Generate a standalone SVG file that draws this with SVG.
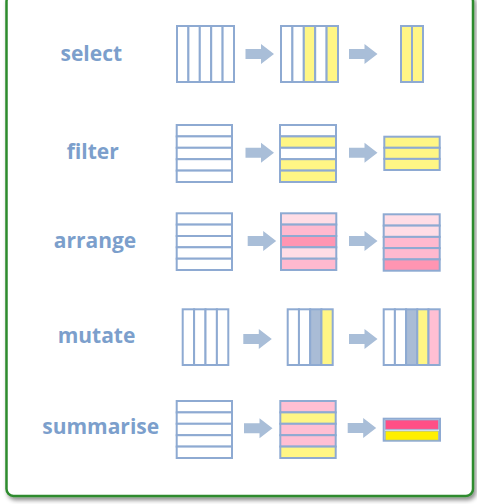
<svg xmlns="http://www.w3.org/2000/svg" width="477" height="504" viewBox="0 0 477 504">
<defs>
<style>
.lbl{font-family:"Open Sans","Liberation Sans",sans-serif;font-weight:bold;font-size:21px;fill:#7c9fcc;text-anchor:middle}
.c{stroke:#8eaad2;stroke-width:2;fill:#ffffff}
.y{fill:#fff685}
.pl{fill:#ffdde6}
.pm{fill:#ffb9cf}
.pd{fill:#ff95b2}
.pk{fill:#ffbfd3}
.b{fill:#a9bcd6}
.hp{fill:#ff4f86}
.by{fill:#ffef00}
.arr{fill:#a9bed8}
</style>
<filter id="sh" x="-5%" y="-5%" width="115%" height="115%">
<feDropShadow dx="2" dy="3" stdDeviation="2" flood-color="#000" flood-opacity="0.45"/>
</filter>
<path id="ar" d="M0,-5 H15.5 V-10 L28.5,0 L15.5,10 V5 H0 Z"/>
</defs>
<rect id="frame" x="6.5" y="-6" width="466.5" height="502" rx="7" fill="#ffffff" stroke="#2e8b2e" stroke-width="2.5" filter="url(#sh)"/>

<g id="row-select">
<text class="lbl" x="91.3" y="60.5">select</text>
</g>
<g id="select-in">
<rect class="c" x="177" y="26" width="11.4" height="56"/><rect class="c" x="188.4" y="26" width="11.4" height="56"/><rect class="c" x="199.8" y="26" width="11.4" height="56"/><rect class="c" x="211.2" y="26" width="11.4" height="56"/><rect class="c" x="222.6" y="26" width="11.4" height="56"/>
</g>
<g id="select-mid">
<rect class="c" x="281" y="26" width="11.4" height="56"/><rect class="c" x="292.4" y="26" width="11.4" height="56"/><rect class="c y" x="303.8" y="26" width="11.4" height="56"/><rect class="c" x="315.2" y="26" width="11.4" height="56"/><rect class="c y" x="326.6" y="26" width="11.4" height="56"/>
</g>
<g id="select-out">
<rect class="c y" x="401" y="26" width="11" height="56"/><rect class="c y" x="412" y="26" width="11" height="56"/>
</g>

<g id="row-filter">
<text class="lbl" x="92.7" y="159.3">filter</text>
</g>
<g id="filter-in">
<rect class="c" x="176.7" y="125" width="55.3" height="11.4"/><rect class="c" x="176.7" y="136.4" width="55.3" height="11.4"/><rect class="c" x="176.7" y="147.8" width="55.3" height="11.4"/><rect class="c" x="176.7" y="159.2" width="55.3" height="11.4"/><rect class="c" x="176.7" y="170.6" width="55.3" height="11.4"/>
</g>
<g id="filter-mid">
<rect class="c" x="280" y="125" width="56" height="11.4"/><rect class="c y" x="280" y="136.4" width="56" height="11.4"/><rect class="c" x="280" y="147.8" width="56" height="11.4"/><rect class="c y" x="280" y="159.2" width="56" height="11.4"/><rect class="c y" x="280" y="170.6" width="56" height="11.4"/>
</g>
<g id="filter-out">
<rect class="c y" x="384.3" y="136.7" width="55.4" height="11.1"/><rect class="c y" x="384.3" y="147.8" width="55.4" height="11.1"/><rect class="c y" x="384.3" y="158.9" width="55.4" height="11.1"/>
</g>

<g id="row-arrange">
<text class="lbl" x="95" y="247.7">arrange</text>
</g>
<g id="arrange-in">
<rect class="c" x="176.7" y="213.3" width="55.3" height="11.3"/><rect class="c" x="176.7" y="224.6" width="55.3" height="11.4"/><rect class="c" x="176.7" y="236" width="55.3" height="11.3"/><rect class="c" x="176.7" y="247.3" width="55.3" height="11.4"/><rect class="c" x="176.7" y="258.7" width="55.3" height="11.3"/>
</g>
<g id="arrange-mid">
<rect class="c pl" x="281" y="213.3" width="55.3" height="11.3"/><rect class="c pm" x="281" y="224.6" width="55.3" height="11.4"/><rect class="c pd" x="281" y="236" width="55.3" height="11.3"/><rect class="c pl" x="281" y="247.3" width="55.3" height="11.4"/><rect class="c pm" x="281" y="258.7" width="55.3" height="11.3"/>
</g>
<g id="arrange-out">
<rect class="c pl" x="383.7" y="214.3" width="56" height="11.3"/><rect class="c pl" x="383.7" y="225.6" width="56" height="11.3"/><rect class="c pm" x="383.7" y="236.9" width="56" height="11.2"/><rect class="c pm" x="383.7" y="248.1" width="56" height="11.3"/><rect class="c pd" x="383.7" y="259.4" width="56" height="11.3"/>
</g>

<g id="row-mutate">
<text class="lbl" x="96.5" y="342.7">mutate</text>
</g>
<g id="mutate-in">
<rect class="c" x="182.7" y="309.3" width="11.4" height="55.7"/><rect class="c" x="194.1" y="309.3" width="11.4" height="55.7"/><rect class="c" x="205.5" y="309.3" width="11.4" height="55.7"/><rect class="c" x="216.9" y="309.3" width="11.4" height="55.7"/>
</g>
<g id="mutate-mid">
<rect class="c" x="287.7" y="309.3" width="11.25" height="55.7"/><rect class="c" x="298.95" y="309.3" width="11.25" height="55.7"/><rect class="c b" x="310.2" y="309.3" width="11.25" height="55.7"/><rect class="c y" x="321.45" y="309.3" width="11.25" height="55.7"/>
</g>
<g id="mutate-out">
<rect class="c" x="383.7" y="309.3" width="11.2" height="55.7"/><rect class="c" x="394.9" y="309.3" width="11.2" height="55.7"/><rect class="c b" x="406.1" y="309.3" width="11.2" height="55.7"/><rect class="c y" x="417.3" y="309.3" width="11.2" height="55.7"/><rect class="c pk" x="428.5" y="309.3" width="11.2" height="55.7"/>
</g>

<g id="row-summarise">
<text class="lbl" x="100.7" y="434.3">summarise</text>
</g>
<g id="summarise-in">
<rect class="c" x="176.7" y="401" width="55.3" height="11.4"/><rect class="c" x="176.7" y="412.4" width="55.3" height="11.4"/><rect class="c" x="176.7" y="423.8" width="55.3" height="11.4"/><rect class="c" x="176.7" y="435.2" width="55.3" height="11.4"/><rect class="c" x="176.7" y="446.6" width="55.3" height="11.4"/>
</g>
<g id="summarise-mid">
<rect class="c pk" x="280.3" y="401" width="55.4" height="11.4"/><rect class="c y" x="280.3" y="412.4" width="55.4" height="11.4"/><rect class="c pk" x="280.3" y="423.8" width="55.4" height="11.4"/><rect class="c pk" x="280.3" y="435.2" width="55.4" height="11.4"/><rect class="c y" x="280.3" y="446.6" width="55.4" height="11.4"/>
</g>
<g id="summarise-out">
<rect class="c" x="383.7" y="418.7" width="56.3" height="22"/>
<rect class="hp" x="385.2" y="420" width="53.3" height="9.3" stroke="#8eaad2" stroke-width="0.8"/>
<rect class="by" x="385.2" y="431" width="53.3" height="9.2" stroke="#8eaad2" stroke-width="0.8"/>
</g>

<g id="connectors" class="arr">
<use href="#ar" x="245.5" y="54"/>
<use href="#ar" x="349" y="54"/>
<use href="#ar" x="245.5" y="152.7"/>
<use href="#ar" x="349" y="152.7"/>
<use href="#ar" x="247.7" y="241"/>
<use href="#ar" x="349" y="241"/>
<use href="#ar" x="243.3" y="339"/>
<use href="#ar" x="349" y="339"/>
<use href="#ar" x="244" y="428.3"/>
<use href="#ar" x="347.7" y="428"/>
</g>
</svg>
